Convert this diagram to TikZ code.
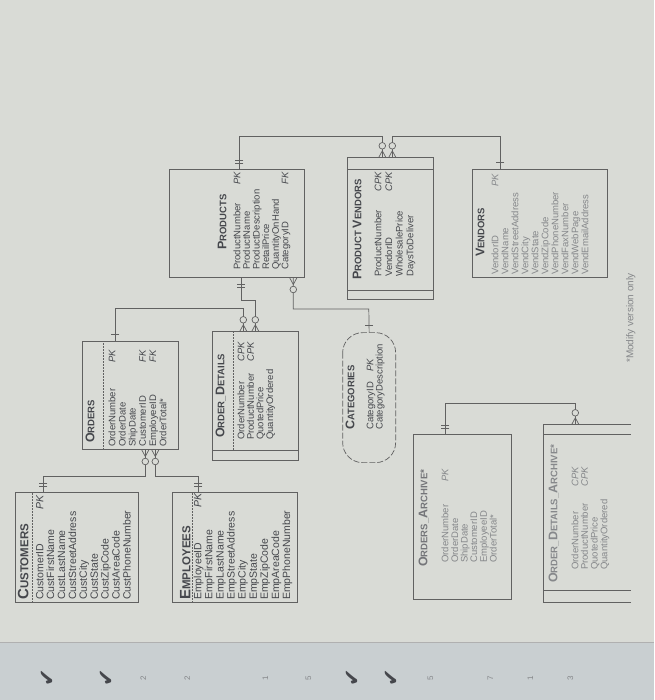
\documentclass[tikz,border=0pt]{standalone}
\usepackage{fontspec}
\setmainfont{Liberation Sans}
\newfontfamily\symfont{DejaVu Sans}
\usetikzlibrary{calc}
\definecolor{paper}{rgb}{0.85,0.86,0.84}
\definecolor{strip}{rgb}{0.79,0.81,0.82}
\definecolor{ink}{rgb}{0.27,0.28,0.30}
\definecolor{faint}{rgb}{0.52,0.53,0.54}
\definecolor{edge}{rgb}{0.38,0.38,0.38}

\newcommand{\tn}[2]{{\fontsize{12.5}{12}\selectfont #1}{\fontsize{9.5}{12}\selectfont #2}}
\newcommand{\tnb}[2]{{\fontsize{15}{12}\selectfont #1}{\fontsize{11.5}{12}\selectfont #2}}
\newcommand{\fsp}[2]{\fontsize{#1}{#2}\selectfont}
\newcommand{\kf}[3]{\makebox[#1][l]{#2}{\itshape #3}}

\tikzset{
  crowopt/.pic={\draw[rel] (0,3.5) -- (6.5,0) -- (0,-3.5); \draw[rel, fill=paper] (11.5,0) circle (3.3);},
  onebar/.pic={\draw[rel] (7,-4) -- (7,4);},
  twobar/.pic={\draw[rel] (6,-4) -- (6,4) (9,-4) -- (9,4);},
}

\begin{document}
\begin{tikzpicture}[x=1pt, y=1pt,
  tbl/.style={draw=edge, line width=0.7pt, rectangle, inner sep=0, anchor=north west},
  ttl/.style={anchor=base west, inner sep=0, text=ink, font=\bfseries},
  flds/.style={anchor=base west, inner sep=0, text=ink},
  rel/.style={draw=edge, line width=0.7pt},
  sepline/.style={draw=edge, densely dotted, line width=0.5pt},
  numlbl/.style={text=faint, font=\fontsize{8}{8}\selectfont},
  chk/.style={text=ink, font=\symfont\fontsize{21}{21}\selectfont}]
  \begin{scope}[rotate=90, transform shape]
    % paper and margin strip
    \fill[paper] (0,0) rectangle (700,-654);
    \fill[strip] (0,0) rectangle (58,-654);
    \draw[edge!50, line width=0.6pt] (58,0) -- (58,-654);

    \node[chk] (m1) at (22,-48) {✔};
    \node[chk] (m2) at (22,-107) {✔};
    \node[chk] (m7) at (22,-353) {✔};
    \node[chk] (m8) at (22,-392) {✔};
    \foreach \d/\n [count=\i] in {143/2, 187/2, 265/1, 308/5, 430/5, 490/7, 530/1, 570/3}
      \node[numlbl] (n\i) at (22,-\d) {\n};

    % tables
    \node[tbl, minimum width=110pt, minimum height=123pt] (cust) at (97,-15) {};
    \node[ttl] (cust-t) at (100,-28) {\tnb{C}{USTOMERS}};
    \draw[sepline] ($(cust.north west)+(0,-17)$) -- ($(cust.north east)+(0,-17)$);
    \node[flds] (cust-f) at (100,-43) {\fsp{10.5}{10.9}\begin{tabular}[t]{@{}l@{}}
      \kf{90pt}{CustomerID}{PK}\\ CustFirstName\\ CustLastName\\ CustStreetAddress\\ CustCity\\
      CustState\\ CustZipCode\\ CustAreaCode\\ CustPhoneNumber\end{tabular}};

    \node[tbl, minimum width=110pt, minimum height=125pt] (emp) at (97,-172) {};
    \node[ttl] (emp-t) at (100,-190) {\tnb{E}{MPLOYEES}};
    \draw[sepline] ($(emp.north west)+(0,-20)$) -- ($(emp.north east)+(0,-20)$);
    \node[flds] (emp-f) at (100,-201) {\fsp{10.5}{11.1}\begin{tabular}[t]{@{}l@{}}
      \kf{92pt}{EmployeeID}{PK}\\ EmpFirstName\\ EmpLastName\\ EmpStreetAddress\\ EmpCity\\
      EmpState\\ EmpZipCode\\ EmpAreaCode\\ EmpPhoneNumber\end{tabular}};

    \node[tbl, minimum width=108pt, minimum height=96pt] (ord) at (250,-82) {};
    \node[ttl] (ord-t) at (257,-94) {\tn{O}{RDERS}};
    \draw[sepline] ($(ord.north west)+(0,-21)$) -- ($(ord.north east)+(0,-21)$);
    \node[flds] (ord-f) at (253,-115) {\fsp{9.5}{10.2}\begin{tabular}[t]{@{}l@{}}
      \kf{84pt}{OrderNumber}{PK}\\ OrderDate\\ ShipDate\\ \kf{84pt}{CustomerID}{FK}\\
      \kf{84pt}{EmployeeID}{FK}\\ OrderTotal*\end{tabular}};

    \node[tbl, minimum width=129pt, minimum height=86pt] (odet) at (239,-212) {};
    \draw[rel] ($(odet.north west)+(11,0)$) -- ($(odet.south west)+(11,0)$);
    \node[ttl] (odet-t) at (262,-224) {\tn{O}{RDER\_}\tn{D}{ETAILS}};
    \draw[sepline] ($(odet.north west)+(11,-21)$) -- ($(odet.north east)+(0,-21)$);
    \node[flds] (odet-f) at (260,-244) {\fsp{9.5}{9}\begin{tabular}[t]{@{}l@{}}
      \kf{78pt}{OrderNumber}{CPK}\\ \kf{78pt}{ProductNumber}{CPK}\\ QuotedPrice\\
      QuantityOrdered\end{tabular}};

    \node[tbl, minimum width=108pt, minimum height=135pt] (prod) at (422,-169) {};
    \node[ttl] (prod-t) at (450,-226) {\tn{P}{RODUCTS}};
    \node[flds] (prod-f) at (430,-240) {\fsp{9.5}{9.2}\begin{tabular}[t]{@{}l@{}}
      \kf{85pt}{ProductNumber}{PK}\\ ProductName\\ ProductDescription\\ RetailPrice\\
      QuantityOnHand\\ \kf{85pt}{CategoryID}{FK}\end{tabular}};

    \node[tbl, dash pattern=on 6pt off 2pt, rounded corners=20pt, minimum width=130pt,
      minimum height=53pt] (cat) at (237,-342) {};
    \node[ttl] (cat-t) at (270,-354) {\tn{C}{ATEGORIES}};
    \node[flds] (cat-f) at (270,-373) {\fsp{9.5}{8.5}\begin{tabular}[t]{@{}l@{}}
      \kf{58pt}{CategoryID}{PK}\\ CategoryDescription\end{tabular}};

    \node[tbl, minimum width=142pt, minimum height=86pt] (pv) at (400,-347) {};
    \draw[rel] ($(pv.north west)+(10,0)$) -- ($(pv.south west)+(10,0)$);
    \draw[rel] ($(pv.north east)+(-12,0)$) -- ($(pv.south east)+(-12,0)$);
    \node[ttl] (pv-t) at (420,-361) {\tn{P}{RODUCT} \tn{V}{ENDORS}};
    \node[flds] (pv-f) at (423,-381) {\fsp{9.5}{10.7}\begin{tabular}[t]{@{}l@{}}
      \kf{85pt}{ProductNumber}{CPK}\\ \kf{85pt}{VendorID}{CPK}\\ WholesalePrice\\
      DaysToDeliver\end{tabular}};

    \node[tbl, minimum width=108pt, minimum height=135pt] (vend) at (422,-472) {};
    \node[ttl] (vend-t) at (443,-484) {\tn{V}{ENDORS}};
    \node[flds, text=faint] (vend-f) at (425,-498) {\fsp{9.5}{10}\begin{tabular}[t]{@{}l@{}}
      \kf{88pt}{VendorID}{PK}\\ VendName\\ VendStreetAddress\\ VendCity\\ VendState\\
      VendZipCode\\ VendPhoneNumber\\ VendFaxNumber\\ VendWebPage\\ VendEmailAddress\end{tabular}};

    \node[tbl, minimum width=165pt, minimum height=98pt] (oarc) at (100,-413) {};
    \node[ttl, text=ink!75] (oarc-t) at (133,-427) {\tn{O}{RDERS\_}\tn{A}{RCHIVE}*};
    \node[flds, text=faint] (oarc-f) at (137,-448) {\fsp{9.5}{9.4}\begin{tabular}[t]{@{}l@{}}
      \kf{81pt}{OrderNumber}{PK}\\ OrderDate\\ ShipDate\\ CustomerID\\ EmployeeID\\
      OrderTotal*\end{tabular}};

    % open-ended archive table: no closing edge
    \node[tbl, draw=none, minimum width=177pt, minimum height=87pt] (odarc) at (98,-543) {};
    \draw[rel] (odarc.south west) -- (odarc.north west) -- (odarc.north east) -- (odarc.south east);
    \draw[rel] ($(odarc.north west)+(12,0)$) -- ($(odarc.south west)+(12,0)$);
    \draw[rel] ($(odarc.north east)+(-10,0)$) -- ($(odarc.south east)+(-10,0)$);
    \node[ttl, text=ink!65] (odarc-t) at (117,-557) {\tn{O}{RDER\_}\tn{D}{ETAILS\_}\tn{A}{RCHIVE}*};
    \node[flds, text=faint] (odarc-f) at (130,-578) {\fsp{9.5}{9.3}\begin{tabular}[t]{@{}l@{}}
      \kf{83pt}{OrderNumber}{CPK}\\ \kf{83pt}{ProductNumber}{CPK}\\ QuotedPrice\\
      QuantityOrdered\end{tabular}};

    \node[flds, text=faint] (note) at (337,-633) {*Modify version only};

    % relationships
    \draw[rel] ($(cust.north east)+(0,-28)$) pic {twobar} -- ++(16,0) -- ++(0,-102)
      -- ($(ord.north west)+(0,-63)$) pic[rotate=180] {crowopt};
    \draw[rel] ($(emp.north east)+(0,-26)$) pic {twobar} -- ++(16,0) -- ++(0,43)
      -- ($(ord.north west)+(0,-73)$) pic[rotate=180] {crowopt};
    \draw[rel] ($(ord.north east)+(0,-33)$) pic {onebar} -- ++(33,0) -- ++(0,-128)
      -- ($(odet.north east)+(0,-31)$) pic {crowopt};
    \draw[rel] ($(prod.north west)+(0,-72)$) pic[rotate=180] {twobar} -- ++(-22,0) -- ++(0,-14)
      -- ($(odet.north east)+(0,-43)$) pic {crowopt};
    \draw[rel] ($(prod.north west)+(0,-124)$) pic[rotate=180] {crowopt} -- ++(-31,0) -- ++(0,-75.5)
      -- (cat.east) pic {onebar};
    \draw[rel] ($(prod.north east)+(0,-70)$) pic {twobar} -- ++(33,0) -- ++(0,-143)
      -- ($(pv.north east)+(0,-35)$) pic {crowopt};
    \draw[rel] ($(vend.north east)+(0,-28)$) pic {onebar} -- ++(33,0) -- ++(0,108)
      -- ($(pv.north east)+(0,-45)$) pic {crowopt};
    \draw[rel] ($(oarc.north east)+(0,-32)$) pic {twobar} -- ++(31,0) -- ++(0,-130)
      -- ($(odarc.north east)+(0,-32)$) pic {crowopt};
  \end{scope}
\end{tikzpicture}
\end{document}
